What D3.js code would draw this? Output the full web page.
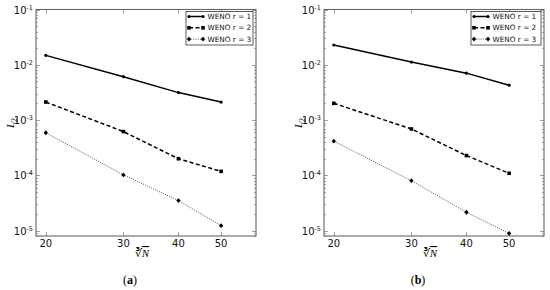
<!DOCTYPE html>
<html>
<head>
<meta charset="utf-8">
<script src="https://cdn.jsdelivr.net/npm/d3@7"></script>
<style>
  body { margin: 0; background: #fff; }
  svg { display: block; }
  .tick-label { font-family: "DejaVu Sans", sans-serif; font-size: 10px; fill: #111; }
  .legend text { font-family: "DejaVu Sans", sans-serif; font-size: 7.3px; fill: #111; }
</style>
</head>
<body>
<svg id="chart" width="550" height="290"></svg>
<script>
// cube root of N (x values)
var nValues = [20, 30, 40, 50];
var xTicks = [20, 30, 40, 50];
var yTicks = [1e-5, 1e-4, 1e-3, 1e-2, 1e-1];
var seriesNames = ["WENO r = 1", "WENO r = 2", "WENO r = 3"];

// panel (a) L2 errors
var errA1 = [0.0148, 0.0061, 0.00314, 0.00212];
var errA2 = [0.00212, 0.00062, 0.000200, 0.000118];
var errA3 = [0.00059, 0.000102, 0.0000350, 0.0000123];

// panel (b) L2 errors
var errB1 = [0.0228, 0.0112, 0.00706, 0.00427];
var errB2 = [0.00201, 0.00069, 0.000228, 0.000109];
var errB3 = [0.000415, 0.0000800, 0.0000215, 0.0000089];

var svg = d3.select("#chart");

var styles = [
  { width: 1.5, dash: null, color: "#000", marker: "circle" },
  { width: 1.5, dash: "4,2.5", color: "#000", marker: "square" },
  { width: 0.9, dash: "1,1.2", color: "#444", marker: "diamond" }
];

function marker (g, kind, x, y) {
  if (kind == "circle") {
    g.append("circle").attr("cx", x).attr("cy", y).attr("r", 1.6).attr("fill", "#000");
  } else if (kind == "square") {
    g.append("rect").attr("x", x - 1.8).attr("y", y - 1.8).attr("width", 3.6).attr("height", 3.6).attr("fill", "#000");
  } else {
    g.append("path")
      .attr("d", "M" + x + "," + (y - 2.4) + "L" + (x + 2.2) + "," + y + "L" + x + "," + (y + 2.4) + "L" + (x - 2.2) + "," + y + "Z")
      .attr("fill", "#000");
  }
}

function panel (opts) {
  var left = opts.left, right = opts.right, top = 9.5, bottom = 236;
  var x = d3.scaleLog().domain([19, 60]).range([left, right]);
  var y = d3.scaleLog().domain([8e-6, 0.1]).range([bottom, top]);
  var g = svg.append("g");

  // minor ticks on y (log)
  var minors = [];
  for (var e = -6; e <= -2; e++) {
    for (var m = 2; m <= 9; m++) {
      var v = m * Math.pow(10, e);
      if (v >= 8e-6 && v <= 0.1) minors.push(v);
    }
  }
  g.selectAll(".ymin").data(minors).enter().append("path")
    .attr("d", function(d) {
      var yy = Math.round(y(d)) + 0.5;
      return "M" + left + "," + yy + "h2M" + right + "," + yy + "h-2";
    })
    .attr("stroke", "#777").attr("stroke-width", 0.6);
  g.selectAll(".ymaj").data(yTicks).enter().append("path")
    .attr("d", function(d) {
      var yy = Math.round(y(d)) + 0.5;
      return "M" + left + "," + yy + "h4M" + right + "," + yy + "h-4";
    })
    .attr("stroke", "#777").attr("stroke-width", 0.7);
  g.selectAll(".xmaj").data(xTicks).enter().append("path")
    .attr("d", function(d) {
      var xx = Math.round(x(d)) + 0.5;
      return "M" + xx + "," + bottom + "v-4M" + xx + "," + top + "v4";
    })
    .attr("stroke", "#777").attr("stroke-width", 0.7);

  // frame
  g.append("rect")
    .attr("x", left).attr("y", top)
    .attr("width", right - left).attr("height", bottom - top)
    .attr("fill", "none").attr("stroke", "#666").attr("stroke-width", 1.1);

  // tick labels
  g.selectAll(".xl").data(xTicks).enter().append("text")
    .attr("class", "tick-label")
    .attr("x", function(d) { return x(d); })
    .attr("y", bottom + 10.5)
    .attr("text-anchor", "middle")
    .text(function(d) { return d; });
  var yl = g.selectAll(".yl").data(yTicks).enter().append("text")
    .attr("class", "tick-label")
    .attr("x", left - 3)
    .attr("y", function(d) { return y(d) + 4; })
    .attr("text-anchor", "end");
  yl.append("tspan").text("10");
  yl.append("tspan").attr("dy", -4).attr("font-size", "6.5px")
    .text(function(d) { return "-" + Math.round(-Math.log10(d)); });

  // series
  var line = d3.line().x(function(d) { return x(d[0]); }).y(function(d) { return y(d[1]); });
  opts.series.forEach(function(s, i) {
    var st = styles[i];
    var pts = nValues.map(function(n, j) { return [n, s[j]]; });
    g.append("path").attr("d", line(pts))
      .attr("fill", "none").attr("stroke", st.color)
      .attr("stroke-width", st.width)
      .attr("stroke-dasharray", st.dash);
    pts.forEach(function(p) { marker(g, st.marker, x(p[0]), y(p[1])); });
  });

  // legend
  var lg = g.append("g").attr("class", "legend");
  var lx = right - opts.legendW - 3;
  lg.append("rect").attr("x", lx).attr("y", 11.5).attr("width", opts.legendW).attr("height", 33.5)
    .attr("fill", "#fff").attr("stroke", "#333").attr("stroke-width", 0.8);
  seriesNames.forEach(function(name, i) {
    var st = styles[i], ly = 16.5 + i * 11.3;
    lg.append("path").attr("d", "M" + (lx + 3) + "," + ly + "H" + (lx + 17))
      .attr("stroke", st.color).attr("stroke-width", st.width).attr("stroke-dasharray", st.dash);
    marker(lg, st.marker, lx + 3, ly);
    marker(lg, st.marker, lx + 17, ly);
    lg.append("text").attr("x", lx + 21.5).attr("y", ly + 2.6).text(name);
  });

  // axis titles
  var cx = (left + right) / 2;
  var xt = g.append("text")
    .attr("x", cx - 4).attr("y", 257)
    .attr("text-anchor", "middle")
    .attr("font-family", "Liberation Serif, serif").attr("font-size", "11px");
  xt.append("tspan").text("∛");
  xt.append("tspan").attr("font-style", "italic").attr("text-decoration", "overline").text("N");

  var yt = g.append("text")
    .attr("transform", "translate(" + (left - 22) + ",123) rotate(-90)")
    .attr("text-anchor", "middle")
    .attr("font-family", "Liberation Serif, serif").attr("font-size", "11px");
  yt.append("tspan").attr("font-style", "italic").text("L");
  yt.append("tspan").attr("dy", 2.5).attr("font-size", "8px").text("2");

  var cap = g.append("text")
    .attr("x", cx - 16).attr("y", 284)
    .attr("text-anchor", "middle")
    .attr("font-family", "Liberation Serif, serif").attr("font-size", "12px");
  cap.append("tspan").text("(");
  cap.append("tspan").attr("font-weight", "bold").text(opts.tag);
  cap.append("tspan").text(")");
}

panel({ left: 36, right: 256, series: [errA1, errA2, errA3], legendW: 67, tag: "a" });
panel({ left: 324, right: 544, series: [errB1, errB2, errB3], legendW: 70, tag: "b" });
</script>
</body>
</html>
